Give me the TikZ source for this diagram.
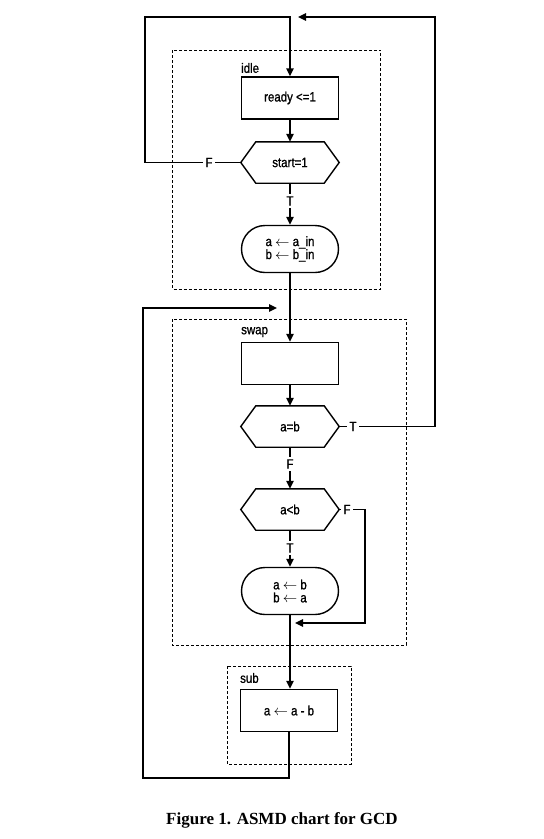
\documentclass[tikz,border=0pt]{standalone}
\usepackage{fontspec}
\setmainfont{Liberation Sans}[FakeStretch=0.85,FakeBold=1]
\newfontfamily\capfont{Liberation Serif}
\usetikzlibrary{arrows.meta,shapes.misc}
\begin{document}
\begin{tikzpicture}[x=1pt,y=-1pt,
  txt/.style={font=\fontsize{13.5}{14}\selectfont},
  flow/.style={line width=1.4pt},
  arr/.style={flow,-{Triangle[length=8pt,width=7.5pt]}},
  statebox/.style={draw,line width=1.4pt,minimum width=97pt,minimum height=42pt,inner sep=0pt,txt},
  condbox/.style={minimum width=98pt,minimum height=41pt,inner sep=0pt,txt},
  rndbox/.style={draw,line width=1.4pt,rounded rectangle,minimum width=97pt,minimum height=47pt,inner sep=0pt,align=left,font=\fontsize{13.5}{13}\selectfont},
  blockbox/.style={draw,line width=0.7pt,dash pattern=on 3pt off 2pt},
  lbl/.style={fill=white,inner sep=2pt,txt},
  tag/.style={anchor=west,inner sep=0pt,txt}]
\useasboundingbox (0,0) rectangle (544,839);

% dashed blocks
\draw[blockbox] (172.5,50) rectangle (380.5,289);
\draw[blockbox] (172,319) rectangle (406,645);
\draw[blockbox] (227,666) rectangle (351,764);
\node[tag] (tidle) at (241,68) {idle};
\node[tag] (tswap) at (241,332) {swap};
\node[tag] (tsub) at (240,678) {sub};

% boxes
\node[statebox] (ready) at (290,98) {ready <=1\hspace{12pt}};
\node[condbox] (start) at (290,162.5) {start=1};
\node[rndbox] (rnd1) at (290,249) {a $\leftarrow$ a\_in\\b $\leftarrow$ b\_in\hspace{8pt}};
\node[statebox] (swapbox) at (290,363.5) {};
\node[condbox] (aeqb) at (290,426.5) {a=b};
\node[condbox] (altb) at (290,509.5) {a<b};
\node[rndbox] (rnd2) at (290,591) {a $\leftarrow$ b\\b $\leftarrow$ a\hspace{6pt}};
\node[statebox] (subbox) at (289,710.5) {a $\leftarrow$ a - b\hspace{16pt}};

% hexagons
\foreach \h in {start,aeqb,altb}{
  \draw[flow,line join=miter] (\h.west) -- ([xshift=15pt]\h.north west) -- ([xshift=-15pt]\h.north east)
     -- (\h.east) -- ([xshift=-15pt]\h.south east) -- ([xshift=15pt]\h.south west) -- cycle;
}

% loop coordinates
\coordinate (topL) at (145,17);
\coordinate (topM) at (290,17);
\coordinate (topTip) at (298,17);
\coordinate (topR) at (435,17);
\coordinate (fL) at (145,162.5);
\coordinate (tR) at (435,426.5);
\coordinate (fR) at (365,509.5);
\coordinate (fRb) at (365,623);
\coordinate (fTip) at (295,623);
\coordinate (botM) at (289,778);
\coordinate (botL) at (143,778);
\coordinate (midL) at (143,308);
\coordinate (midTip) at (277,308);

% idle
\draw[arr] (start.west) -- (fL) -- (topL) -- (topM) -- (ready.north);
\node[lbl] (lf1) at (209,162.5) {F};
\draw[arr] (ready.south) -- (start.north);
\draw[arr] (start.south) -- (rnd1.north);
\node[lbl] (lt1) at (290,201) {T};
\draw[arr] (rnd1.south) -- (swapbox.north);

% swap
\draw[arr] (swapbox.south) -- (aeqb.north);
\draw[arr] (aeqb.east) -- (tR) -- (topR) -- (topTip);
\node[lbl] (lt2) at (353,426.5) {T};
\draw[arr] (aeqb.south) -- (altb.north);
\node[lbl] (lf2) at (290,464) {F};
\draw[arr] (altb.south) -- (rnd2.north);
\node[lbl] (lt3) at (290,548) {T};
\draw[arr] (altb.east) -- (fR) -- (fRb) -- (fTip);
\node[lbl] (lf3) at (347,509.5) {F};
\draw[arr] (rnd2.south) -- (rnd2.south |- subbox.north);

% sub
\draw[arr] (subbox.south) -- (botM) -- (botL) -- (midL) -- (midTip);

% caption
\node[font=\capfont\bfseries\fontsize{17}{20}\selectfont] (cap) at (282,820) {Figure 1. ASMD chart for GCD};
\end{tikzpicture}
\end{document}
